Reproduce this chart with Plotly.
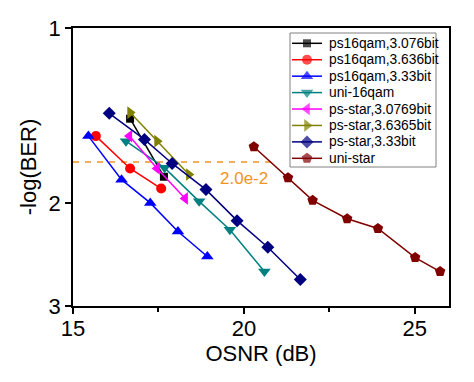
import numpy as np
import plotly.graph_objects as go

# ---- data (OSNR in dB, -log(BER)) ----
names = ["ps16qam,3.076bit", "ps16qam,3.636bit", "ps16qam,3.33bit", "uni-16qam",
         "ps-star,3.0769bit", "ps-star,3.6365bit", "ps-star,3.33bit", "uni-star"]

x_ps16_3076 = [16.67, 17.66]
y_ps16_3076 = [1.431, 1.800]

x_ps16_3636 = [15.67, 16.67, 17.58]
y_ps16_3636 = [1.533, 1.742, 1.886]

x_ps16_333 = [15.45, 16.42, 17.26, 18.07, 18.93]
y_ps16_333 = [1.533, 1.821, 1.996, 2.235, 2.467]

x_uni16 = [16.55, 17.68, 18.69, 19.59, 20.60]
y_uni16 = [1.564, 1.738, 1.984, 2.219, 2.618]

x_star_30769 = [16.65, 17.46, 18.28]
y_star_30769 = [1.533, 1.742, 1.961]

x_star_36365 = [16.67, 17.46, 18.39]
y_star_36365 = [1.397, 1.564, 1.784]

x_star_333 = [16.06, 17.09, 17.90, 18.89, 19.80, 20.70, 21.65]
y_star_333 = [1.401, 1.553, 1.708, 1.894, 2.141, 2.378, 2.702]

x_unistar = [20.29, 21.29, 22.01, 23.02, 23.92, 25.01, 25.74]
y_unistar = [1.599, 1.807, 1.976, 2.125, 2.208, 2.477, 2.618]

threshold_x = [15.0, 20.92]
threshold_y = [1.699, 1.699]
threshold_label = "2.0e-2"

x_ticks = [15, 20, 25]
y_ticks = [1, 2, 3]

series_x = [x_ps16_3076, x_ps16_3636, x_ps16_333, x_uni16,
            x_star_30769, x_star_36365, x_star_333, x_unistar]
series_y = [y_ps16_3076, y_ps16_3636, y_ps16_333, y_uni16,
            y_star_30769, y_star_36365, y_star_333, y_unistar]

colors = ["#000000", "#FF0000", "#0000FF", "#008080",
          "#FF00FF", "#808000", "#000080", "#800000"]
symbols = ["square", "circle", "triangle-up", "triangle-down",
           "triangle-left", "triangle-right", "diamond", "pentagon"]
sizes = [8, 10, 11, 11, 11, 11, 10, 11]

FONT = "Liberation Sans, Arial, sans-serif"
ORANGE = "#F39322"

# ---- layout geometry (screen pixels; page body has an 8px margin) ----
OFF = 8
W, H = 474 - OFF, 382 - OFF
PL, PR, PT, PB = 73, 449, 28, 306          # plot area on screen
ML, MR, MT, MB = PL - OFF, 474 - PR, PT - OFF, 382 - PB
PW, PH = PR - PL, PB - PT


def fx(px):  # screen x -> fraction of plot area
    return (px - PL) / PW


def fy(py):  # screen y -> fraction of plot area (from bottom)
    return (PB - py) / PH


fig = go.Figure()

fig.add_trace(go.Scatter(
    x=threshold_x, y=threshold_y, mode="lines",
    line=dict(color=ORANGE, width=1.5, dash="6px,6px"),
    showlegend=False, hoverinfo="skip"))

for n, xs, ys, c, s, sz in zip(names, series_x, series_y, colors, symbols, sizes):
    fig.add_trace(go.Scatter(
        x=xs, y=ys, name=n, mode="lines+markers", showlegend=False,
        line=dict(color=c, width=1.5),
        marker=dict(symbol=s, size=sz, color=c, line=dict(width=0)),
    ))

fig.add_annotation(x=20.0, y=np.log10(1.809), text=threshold_label,
                   showarrow=False, font=dict(family=FONT, size=17, color=ORANGE))

# ---- hand-drawn legend (box, samples, labels) ----
LEG_L, LEG_R, LEG_T, LEG_B = 290, 436, 33, 167
ROW0, ROW_STEP = 43.3, 16.43
SAMPLE_L, SAMPLE_R, TEXT_X = 292, 322, 327

fig.add_shape(type="rect", xref="x domain", yref="y domain",
              x0=fx(LEG_L), x1=fx(LEG_R), y0=fy(LEG_B), y1=fy(LEG_T),
              line=dict(color="#808080", width=1), fillcolor="white", layer="below")

for i, (n, c, s, sz) in enumerate(zip(names, colors, symbols, sizes)):
    ry = fy(ROW0 + i * ROW_STEP)
    fig.add_trace(go.Scatter(
        x=[fx(SAMPLE_L), fx((SAMPLE_L + SAMPLE_R) / 2), fx(SAMPLE_R)], y=[ry, ry, ry],
        xaxis="x2", yaxis="y2", mode="lines+markers", showlegend=False, hoverinfo="skip",
        line=dict(color=c, width=1.5),
        marker=dict(symbol=s, size=[0, sz, 0], color=c, line=dict(width=0)),
    ))
    fig.add_annotation(xref="x domain", yref="y domain", x=fx(TEXT_X), y=ry,
                       xanchor="left", yanchor="middle", text=n, showarrow=False,
                       font=dict(family=FONT, size=13.8, color="black"))

fig.update_layout(
    width=W, height=H,
    margin=dict(l=ML, r=MR, t=MT, b=MB),
    paper_bgcolor="white", plot_bgcolor="white",
    font=dict(family=FONT, color="black"),
    showlegend=False,
    xaxis=dict(
        range=[15, 26], tickvals=x_ticks, ticks="outside", ticklen=6, tickwidth=1.5,
        tickcolor="black", showline=True, linecolor="black", linewidth=1.5,
        mirror=True, showgrid=False, zeroline=False, automargin=False,
        tickfont=dict(family=FONT, size=22), ticklabelstandoff=-4,
        minor=dict(tickvals=[17.5, 22.5], ticks="outside", ticklen=4, tickwidth=1.5, tickcolor="black"),
        title=dict(text="OSNR (dB)", font=dict(family=FONT, size=22), standoff=4),
    ),
    yaxis=dict(
        type="log", range=[np.log10(3), 0], tickvals=y_ticks, ticktext=["1", "2", "3"],
        ticks="outside", ticklen=6, tickwidth=1.5, tickcolor="black",
        showline=True, linecolor="black", linewidth=1.5, mirror=True,
        showgrid=False, zeroline=False, automargin=False,
        tickfont=dict(family=FONT, size=22),
        title=dict(text="-log(BER)", font=dict(family=FONT, size=22), standoff=6),
    ),
    xaxis2=dict(overlaying="x", range=[0, 1], visible=False, fixedrange=True),
    yaxis2=dict(overlaying="y", range=[0, 1], visible=False, fixedrange=True),
)

fig.write_html("out.html")
